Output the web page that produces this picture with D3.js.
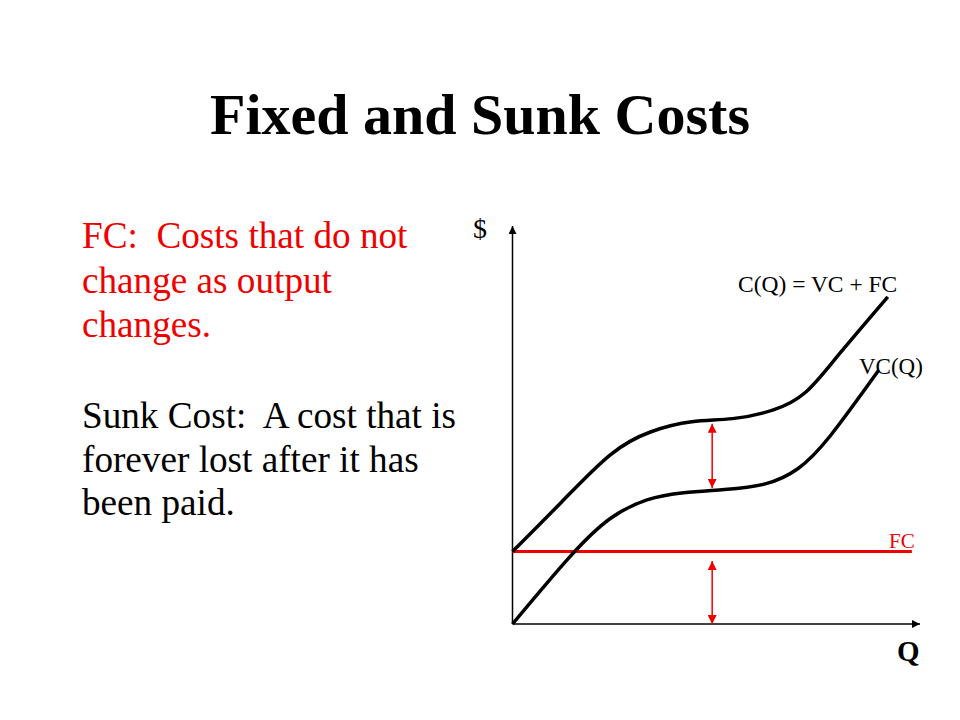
<!DOCTYPE html>
<html>
<head>
<meta charset="utf-8">
<script src="https://cdn.jsdelivr.net/npm/d3@7"></script>
<style>
  body { margin: 0; background: #fff; }
  svg { display: block; font-family: "Liberation Serif", "Times New Roman", serif; }
  text { white-space: pre; }
</style>
</head>
<body>
<div id="chart"></div>
<script>
// values (Q and $ in chart units, 0..100)
var vcQ      = [0, 14, 24, 33, 42, 52, 62, 70, 78, 89.9];
var vcValues = [0, 16.8, 26.5, 31.2, 33.0, 33.8, 35.2, 39.0, 47.3, 63.8];
var cQ       = [0, 12, 24, 34, 44, 54, 64, 72, 80, 92.1];
var cValues  = [18.2, 30.6, 42.5, 48.3, 50.8, 51.6, 53.8, 58.3, 67.6, 82.2];
var fcValue = 18.2;
var fcEnd = 98;
var gapQ = 49; // where the double arrows sit
var upperGap = [50.3, 34.2];
var lowerGap = [15.8, 0];

var title = "Fixed and Sunk Costs";
var fcText = ["FC:  Costs that do not", "change as output", "changes."];
var sunkText = ["Sunk Cost:  A cost that is", "forever lost after it has", "been paid."];

var W = 960, H = 720;
var svg = d3.select('#chart').append('svg')
    .attr('width', W).attr('height', H);

var x = d3.scaleLinear().domain([0, 100]).range([512.5, 920]);
var y = d3.scaleLinear().domain([0, 100]).range([624, 226]);

var defs = svg.append('defs');
function marker(id, color, w, h) {
    defs.append('marker')
        .attr('id', id)
        .attr('viewBox', '0 0 10 10')
        .attr('refX', 10).attr('refY', 5)
        .attr('markerWidth', w).attr('markerHeight', h)
        .attr('markerUnits', 'userSpaceOnUse')
        .attr('orient', 'auto-start-reverse')
      .append('path')
        .attr('d', 'M0,0 L10,5 L0,10 Z')
        .attr('fill', color);
}
marker('ax', '#000', 9, 8);
marker('red', '#e00', 9, 9);

// title
svg.append('text')
    .attr('x', 480).attr('y', 134)
    .attr('text-anchor', 'middle')
    .attr('font-size', 58).attr('font-weight', 'bold')
    .text(title);

// left text
svg.append('g').selectAll('text').data(fcText).join('text')
    .attr('x', 82).attr('y', function(d, i) { return 248 + i * 44.5; })
    .attr('font-size', 37.2).attr('fill', '#e00')
    .text(function(d) { return d; });
svg.append('g').selectAll('text').data(sunkText).join('text')
    .attr('x', 82).attr('y', function(d, i) { return 428 + i * 43.5; })
    .attr('font-size', 37.2).attr('fill', '#000')
    .text(function(d) { return d; });

// axes
svg.append('line')
    .attr('x1', x(0)).attr('y1', y(0)).attr('x2', x(0)).attr('y2', y(100))
    .attr('stroke', '#000').attr('stroke-width', 1.5)
    .attr('marker-end', 'url(#ax)');
svg.append('line')
    .attr('x1', x(0)).attr('y1', y(0)).attr('x2', x(100)).attr('y2', y(0))
    .attr('stroke', '#000').attr('stroke-width', 1.5)
    .attr('marker-end', 'url(#ax)');

svg.append('text').attr('x', 473).attr('y', 238)
    .attr('font-size', 28).text('$');
svg.append('text').attr('x', 897).attr('y', 661)
    .attr('font-size', 29).attr('font-weight', 'bold').text('Q');

// FC line
svg.append('line')
    .attr('x1', x(0)).attr('y1', y(fcValue)).attr('x2', x(fcEnd)).attr('y2', y(fcValue))
    .attr('stroke', '#e00').attr('stroke-width', 3);

var line = d3.line()
    .x(function(d) { return x(d[0]); })
    .y(function(d) { return y(d[1]); })
    .curve(d3.curveNatural);

svg.append('path')
    .datum(d3.zip(vcQ, vcValues))
    .attr('fill', 'none').attr('stroke', '#000').attr('stroke-width', 3.5)
    .attr('d', line);
svg.append('path')
    .datum(d3.zip(cQ, cValues))
    .attr('fill', 'none').attr('stroke', '#000').attr('stroke-width', 3.5)
    .attr('d', line);

// double arrows
[upperGap, lowerGap].forEach(function(g) {
    svg.append('line')
        .attr('x1', x(gapQ)).attr('y1', y(g[0]))
        .attr('x2', x(gapQ)).attr('y2', y(g[1]))
        .attr('stroke', '#e00').attr('stroke-width', 1.5)
        .attr('marker-start', 'url(#red)')
        .attr('marker-end', 'url(#red)');
});

// curve labels
svg.append('text').attr('x', 738).attr('y', 292)
    .attr('font-size', 23.5).text('C(Q) = VC + FC');
svg.append('text').attr('x', 859).attr('y', 374)
    .attr('font-size', 23).text('VC(Q)');
svg.append('text').attr('x', 889).attr('y', 548)
    .attr('font-size', 21).attr('fill', '#e00').text('FC');
</script>
</body>
</html>
